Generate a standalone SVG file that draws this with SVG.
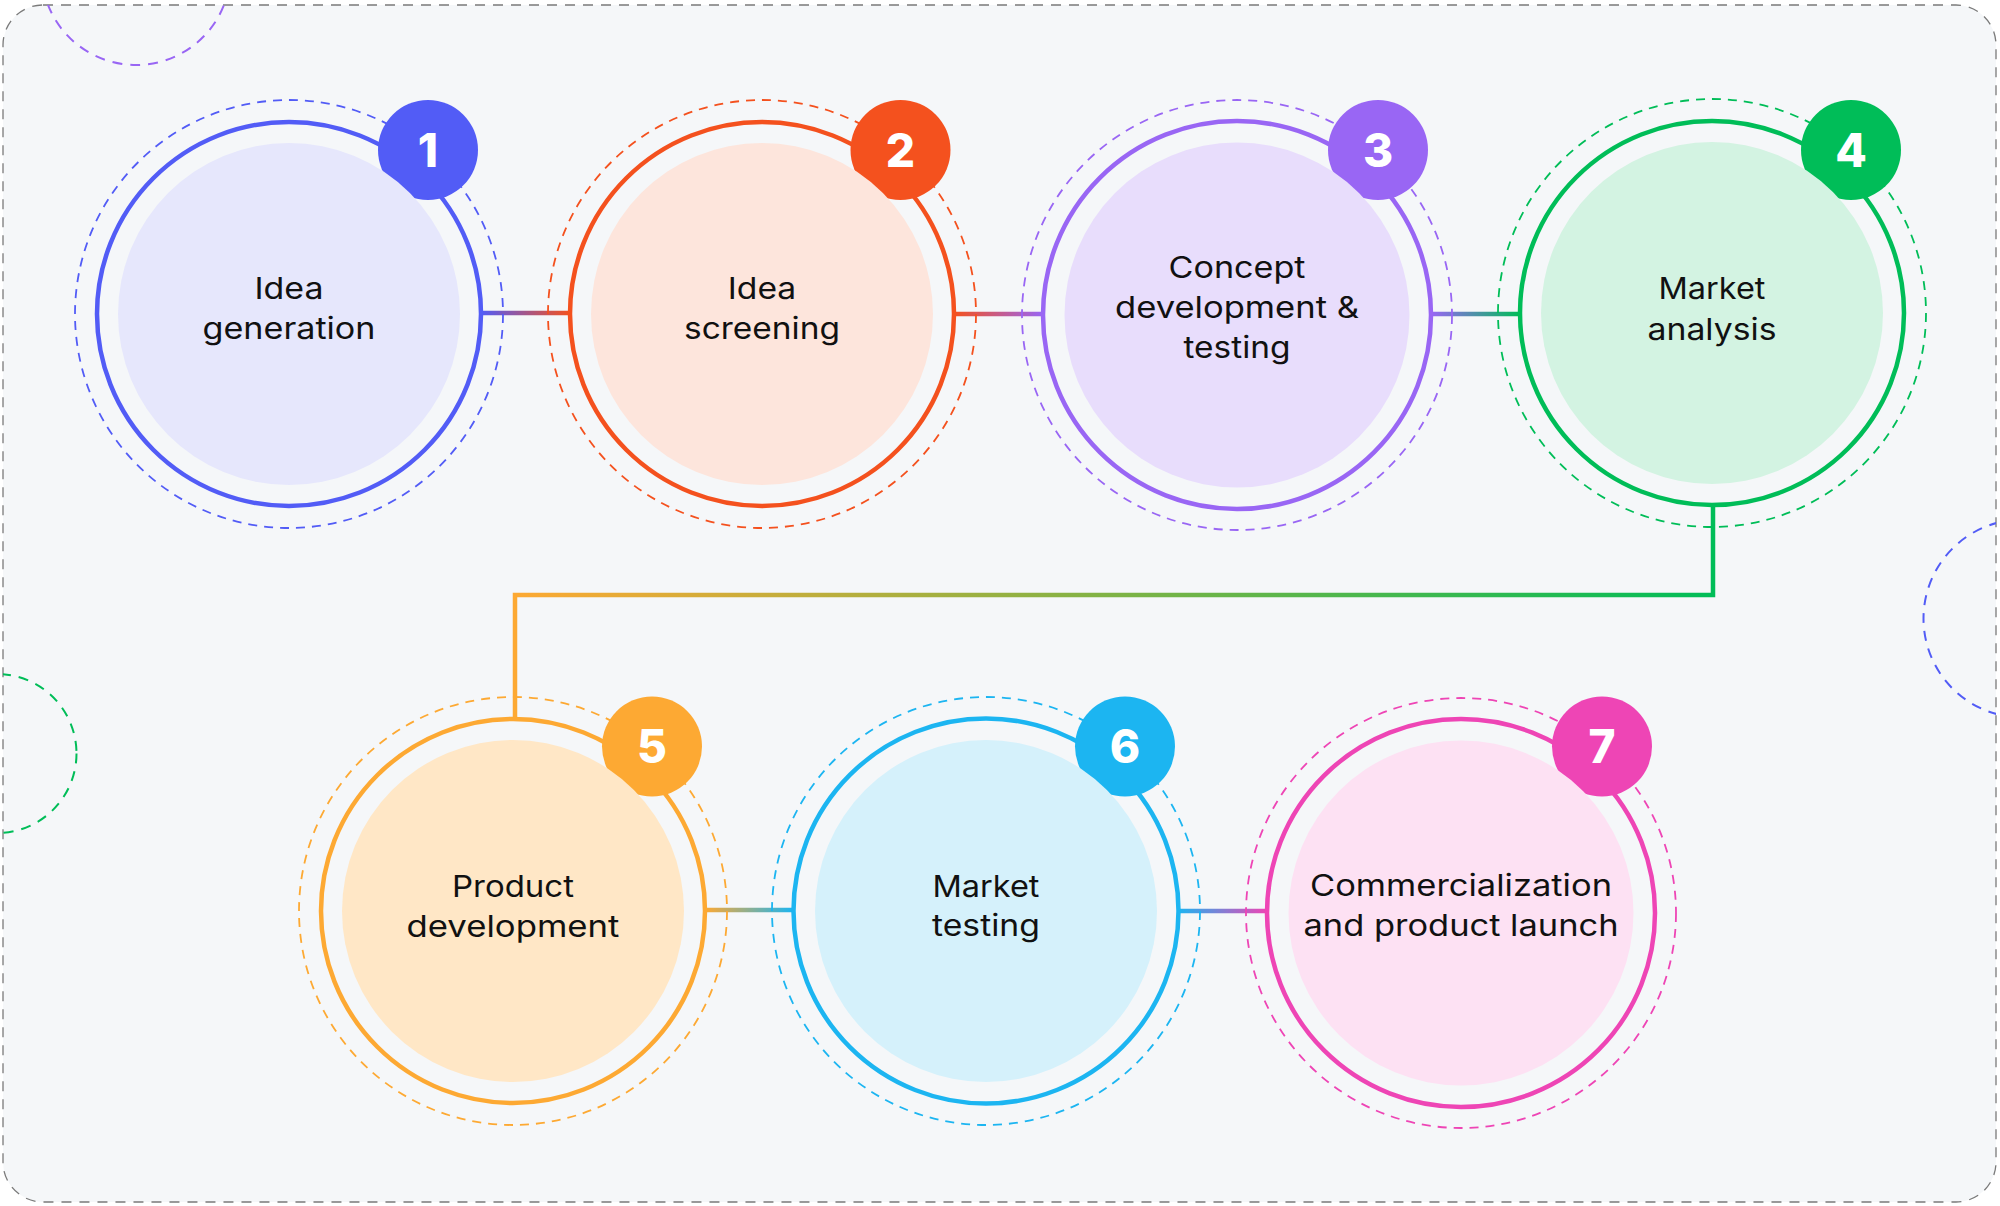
<svg xmlns="http://www.w3.org/2000/svg" width="2000" height="1206" viewBox="0 0 2000 1206">
<defs>
<style>
.lbl{font-family:Inter,"Liberation Sans",sans-serif;font-size:30px;fill:#111;text-anchor:middle}
.num{font-family:Inter,"Liberation Sans",sans-serif;font-weight:800;font-size:46px;fill:#fff;text-anchor:middle}
.ring{fill:none;stroke-width:4.5}
.dash{fill:none;stroke-width:1.8;stroke-dasharray:9 7}
.deco{fill:none;stroke-width:2;stroke-dasharray:10 8}
.conn{fill:none;stroke-width:4.5}
</style>
<clipPath id="frameClip"><rect x="3" y="5" width="1993" height="1197" rx="40"/></clipPath>
<linearGradient id="g12" gradientUnits="userSpaceOnUse" x1="481" y1="0" x2="570" y2="0"><stop offset="0" stop-color="#525CF6"/><stop offset="1" stop-color="#F4511E"/></linearGradient>
<linearGradient id="g23" gradientUnits="userSpaceOnUse" x1="954" y1="0" x2="1043" y2="0"><stop offset="0" stop-color="#F4511E"/><stop offset="1" stop-color="#9966F4"/></linearGradient>
<linearGradient id="g34" gradientUnits="userSpaceOnUse" x1="1431" y1="0" x2="1520" y2="0"><stop offset="0" stop-color="#9966F4"/><stop offset="1" stop-color="#00BD58"/></linearGradient>
<linearGradient id="g45" gradientUnits="userSpaceOnUse" x1="515" y1="0" x2="1713" y2="0"><stop offset="0" stop-color="#FDA933"/><stop offset="1" stop-color="#00BD58"/></linearGradient>
<linearGradient id="g56" gradientUnits="userSpaceOnUse" x1="705" y1="0" x2="793" y2="0"><stop offset="0" stop-color="#FDA933"/><stop offset="1" stop-color="#1CB5F1"/></linearGradient>
<linearGradient id="g67" gradientUnits="userSpaceOnUse" x1="1178" y1="0" x2="1267" y2="0"><stop offset="0" stop-color="#1CB5F1"/><stop offset="1" stop-color="#EE45B5"/></linearGradient>
</defs>

<rect x="0" y="0" width="2000" height="1206" fill="#FFFFFF"/>
<rect id="frame" x="3" y="5" width="1993" height="1197" rx="40" fill="#F5F7F9" stroke="#7A7A7A" stroke-width="1.3" stroke-dasharray="10 8"/>

<g id="decor" clip-path="url(#frameClip)">
<circle class="deco" cx="136" cy="-29.5" r="94.5" stroke="#9966F4"/>
<circle class="deco" cx="-3" cy="753.5" r="79.5" stroke="#00BD58"/>
<circle class="deco" cx="2022.5" cy="618.5" r="99" stroke="#525CF6"/>
</g>

<g id="connectors">
<path class="conn" d="M481 313 H570" stroke="url(#g12)"/>
<path class="conn" d="M954 314 H1043" stroke="url(#g23)"/>
<path class="conn" d="M1431 314 H1520" stroke="url(#g34)"/>
<path class="conn" d="M1713 505 V595 H515 V719" stroke="url(#g45)"/>
<path class="conn" d="M705 910 H793" stroke="url(#g56)"/>
<path class="conn" d="M1178 911 H1267" stroke="url(#g67)"/>
</g>

<g id="node1">
<circle class="dash" cx="289" cy="314" r="214" stroke="#525CF6"/>
<circle class="ring" cx="289" cy="314" r="192" stroke="#525CF6"/>
<circle cx="428" cy="150" r="50" fill="#525CF6"/>
<circle cx="289" cy="314" r="171" fill="#E6E7FC"/>
<text class="num" x="428" y="166.5">1</text>
<text class="lbl" x="289" y="299" textLength="69" lengthAdjust="spacingAndGlyphs">Idea</text>
<text class="lbl" x="289" y="339" textLength="173" lengthAdjust="spacingAndGlyphs">generation</text>
</g>

<g id="node2">
<circle class="dash" cx="762" cy="314" r="214" stroke="#F4511E"/>
<circle class="ring" cx="762" cy="314" r="192" stroke="#F4511E"/>
<circle cx="900.5" cy="150" r="50" fill="#F4511E"/>
<circle cx="762" cy="314" r="171" fill="#FDE5DC"/>
<text class="num" x="900.5" y="166.5">2</text>
<text class="lbl" x="762" y="299" textLength="68.5" lengthAdjust="spacingAndGlyphs">Idea</text>
<text class="lbl" x="762" y="339" textLength="156" lengthAdjust="spacingAndGlyphs">screening</text>
</g>

<g id="node3">
<circle class="dash" cx="1237" cy="315" r="215" stroke="#9966F4"/>
<circle class="ring" cx="1237" cy="315" r="194" stroke="#9966F4"/>
<circle cx="1378" cy="150" r="50" fill="#9966F4"/>
<circle cx="1237" cy="315" r="172.5" fill="#E8DDFC"/>
<text class="num" x="1378" y="166.5">3</text>
<text class="lbl" x="1237" y="278" textLength="137" lengthAdjust="spacingAndGlyphs">Concept</text>
<text class="lbl" x="1237" y="318" textLength="244" lengthAdjust="spacingAndGlyphs">development &amp;</text>
<text class="lbl" x="1237" y="358" textLength="107" lengthAdjust="spacingAndGlyphs">testing</text>
</g>

<g id="node4">
<circle class="dash" cx="1712" cy="313" r="214" stroke="#00BD58"/>
<circle class="ring" cx="1712" cy="313" r="192" stroke="#00BD58"/>
<circle cx="1851" cy="150" r="50" fill="#00BD58"/>
<circle cx="1712" cy="313" r="171" fill="#D3F3E2"/>
<text class="num" x="1851" y="166.5">4</text>
<text class="lbl" x="1712" y="299" textLength="107" lengthAdjust="spacingAndGlyphs">Market</text>
<text class="lbl" x="1712" y="339.5" textLength="129" lengthAdjust="spacingAndGlyphs">analysis</text>
</g>

<g id="node5">
<circle class="dash" cx="513" cy="911" r="214" stroke="#FDA933"/>
<circle class="ring" cx="513" cy="911" r="192" stroke="#FDA933"/>
<circle cx="652" cy="746.5" r="50" fill="#FDA933"/>
<circle cx="513" cy="911" r="171" fill="#FFE7C6"/>
<text class="num" x="652" y="763">5</text>
<text class="lbl" x="513" y="897" textLength="122" lengthAdjust="spacingAndGlyphs">Product</text>
<text class="lbl" x="513" y="937" textLength="213" lengthAdjust="spacingAndGlyphs">development</text>
</g>

<g id="node6">
<circle class="dash" cx="986" cy="911" r="214" stroke="#1CB5F1"/>
<circle class="ring" cx="986" cy="911" r="192.5" stroke="#1CB5F1"/>
<circle cx="1125" cy="746.5" r="50" fill="#1CB5F1"/>
<circle cx="986" cy="911" r="171" fill="#D5F1FB"/>
<text class="num" x="1125" y="763">6</text>
<text class="lbl" x="986" y="897" textLength="107" lengthAdjust="spacingAndGlyphs">Market</text>
<text class="lbl" x="986" y="936" textLength="108" lengthAdjust="spacingAndGlyphs">testing</text>
</g>

<g id="node7">
<circle class="dash" cx="1461" cy="913" r="215" stroke="#EE45B5"/>
<circle class="ring" cx="1461" cy="913" r="194" stroke="#EE45B5"/>
<circle cx="1602" cy="746.5" r="50" fill="#EE45B5"/>
<circle cx="1461" cy="913" r="172.5" fill="#FDE1F3"/>
<text class="num" x="1602" y="763">7</text>
<text class="lbl" x="1461" y="896" textLength="302" lengthAdjust="spacingAndGlyphs">Commercialization</text>
<text class="lbl" x="1461" y="936" textLength="315" lengthAdjust="spacingAndGlyphs">and product launch</text>
</g>
</svg>
